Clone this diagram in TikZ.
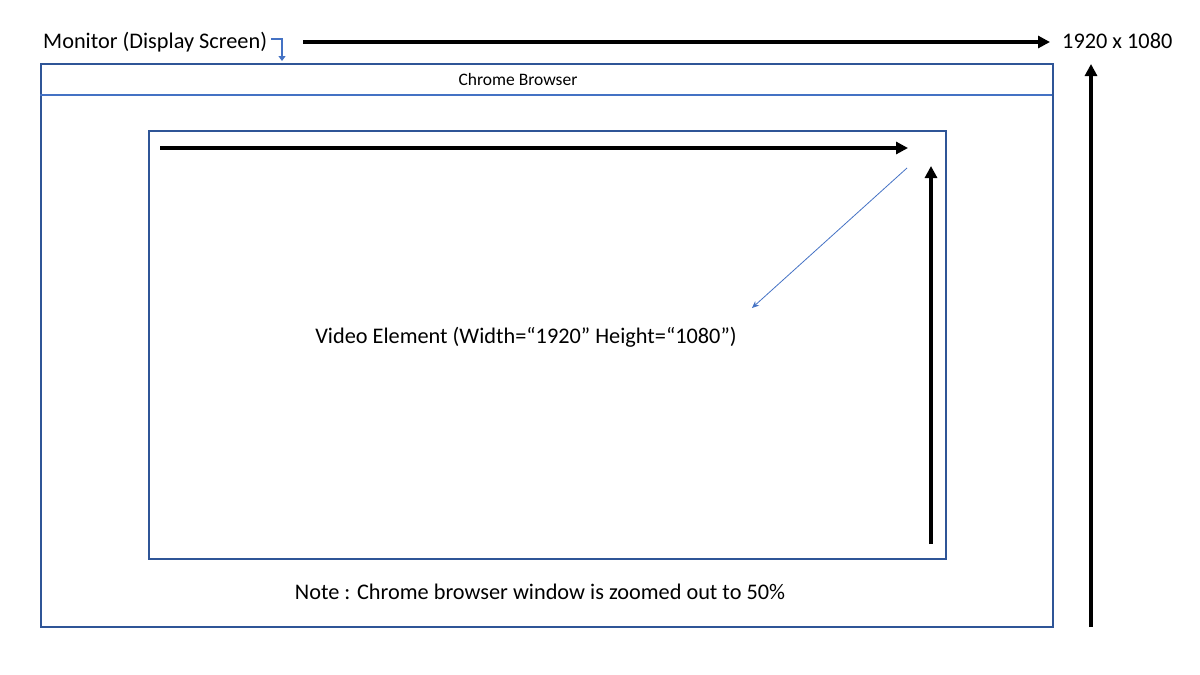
\documentclass[tikz,border=0pt]{standalone}
\usepackage{fontspec}
\setmainfont{Carlito}
\usetikzlibrary{arrows.meta}
\definecolor{bl}{HTML}{2F5597}
\definecolor{bl2}{HTML}{4472C4}
\begin{document}
\begin{tikzpicture}[x=1pt,y=-1pt,
  box/.style={draw=bl,line width=2.4pt},
  big/.style={line width=4pt,-{Triangle[length=12pt,width=12pt]}},
  lbl/.style={font=\fontsize{22.3}{26}\selectfont,inner sep=0pt}]
\useasboundingbox (0,0) rectangle (1200,675);
\node[box,minimum width=1012pt,minimum height=563pt,anchor=north west,inner sep=0pt] (mon) at (40,63) {};
\coordinate (hl) at (40,95); \coordinate (hr) at (1052,95);
\draw[bl2,line width=2pt] (hl) -- (hr);
\node[font=\fontsize{17.5}{20}\selectfont,inner sep=0pt] (cb) at (518,79) {Chrome Browser};
\node[box,minimum width=797pt,minimum height=428pt,anchor=north west,inner sep=0pt] (vid) at (148,130) {};
\coordinate (h1) at (160,148); \coordinate (h2) at (908,148);
\draw[big] (h1) -- (h2);
\coordinate (v1) at (931,544); \coordinate (v2) at (931,166);
\draw[big] (v1) -- (v2);
\node[lbl] (vt) at (526,337) {Video Element (Width=“1920” Height=“1080”)};
\coordinate (d1) at (907,168); \coordinate (d2) at (752,308);
\draw[bl2,line width=0.8pt,-{Stealth[length=7pt,width=6pt]}] (d1) -- (d2);
\node[lbl] (nt) at (540,592) {Note : Chrome browser window is zoomed out to 50\%};
\node[lbl,anchor=west] (mt) at (43,42) {Monitor (Display Screen)};
\coordinate (b1) at (271,39); \coordinate (b2) at (282,39); \coordinate (b3) at (282,61);
\draw[bl2,line width=2.6pt,-{Triangle[length=5pt,width=7pt]}] (b1) -- (b2) -- (b3);
\coordinate (t1) at (303,42); \coordinate (t2) at (1050,42);
\draw[big] (t1) -- (t2);
\node[lbl,anchor=west] (rt) at (1062,41) {1920 x 1080};
\coordinate (r1) at (1091,627); \coordinate (r2) at (1091,64);
\draw[big] (r1) -- (r2);
\end{tikzpicture}
\end{document}
